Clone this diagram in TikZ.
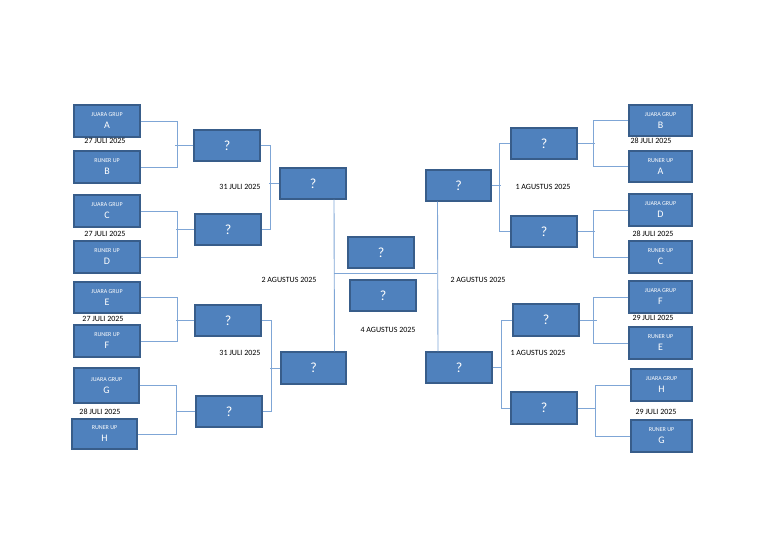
\documentclass[tikz,border=0pt]{standalone}
\usepackage{fontspec}
\setmainfont{Carlito}
\begin{document}
\begin{tikzpicture}[x=1pt,y=-1pt,
  bx/.style={draw=bdr,fill=boxc,line width=1.2pt,text=white,align=center,inner sep=0pt},
  ln/.style={draw=lnc,line width=0.9pt},
  dt/.style={font=\fontsize{8}{9}\selectfont,inner sep=0pt}]
\definecolor{boxc}{HTML}{4F81BD}
\definecolor{bdr}{HTML}{385D8A}
\definecolor{lnc}{HTML}{7FA6D6}
\useasboundingbox (0,0) rectangle (768,543);
\newcommand{\bx}[6]{\node[bx,minimum width=#4-#2,minimum height=#5-#3] (#1) at ({(#2+#4)/2},{(#3+#5)/2}) {#6};}
\newcommand{\gt}[2]{\fontsize{6}{8}\selectfont #1\\#2}
\newcommand{\qm}{\fontsize{14}{14}\selectfont ?}
% left group boxes
\bx{A}{74}{105}{140}{137}{\gt{JUARA GRUP}{A}}
\bx{B}{74}{151}{140}{183}{\gt{RUNER UP}{B}}
\bx{C}{74}{195}{140}{227}{\gt{JUARA GRUP}{C}}
\bx{D}{74}{241}{140}{273}{\gt{RUNER UP}{D}}
\bx{E}{74}{282}{140}{313}{\gt{JUARA GRUP}{E}}
\bx{F}{74}{325}{140}{357}{\gt{RUNER UP}{F}}
\bx{G}{74}{368}{139}{403}{\gt{JUARA GRUP}{G}}
\bx{H}{72}{419}{137}{449}{\gt{RUNER UP}{H}}
% right group boxes
\bx{RB}{629}{105}{692}{136}{\gt{JUARA GRUP}{B}}
\bx{RA}{629}{151}{692}{182}{\gt{RUNER UP}{A}}
\bx{RD}{629}{194}{692}{226}{\gt{JUARA GRUP}{D}}
\bx{RC}{629}{241}{692}{273}{\gt{RUNER UP}{C}}
\bx{RF}{629}{281}{692}{313}{\gt{JUARA GRUP}{F}}
\bx{RE}{629}{327}{692}{359}{\gt{RUNER UP}{E}}
\bx{RH}{631}{369}{692}{401}{\gt{JUARA GRUP}{H}}
\bx{RG}{631}{420}{692}{452}{\gt{RUNER UP}{G}}
% rounds
\bx{la}{194}{130}{260}{161}{\qm}
\bx{lb}{195}{214}{261}{245}{\qm}
\bx{lc}{195}{305}{261}{336}{\qm}
\bx{ld}{196}{396}{262}{427}{\qm}
\bx{lt}{280}{168}{346}{199}{\qm}
\bx{lu}{281}{352}{346}{384}{\qm}
\bx{ca}{348}{237}{414}{268}{\qm}
\bx{cb}{350}{280}{416}{311}{\qm}
\bx{rt}{426}{170}{491}{201}{\qm}
\bx{ru}{426}{352}{492}{383}{\qm}
\bx{ra}{511}{128}{577}{159}{\qm}
\bx{rb}{511}{216}{577}{247}{\qm}
\bx{rc}{513}{304}{579}{336}{\qm}
\bx{rd}{511}{392}{577}{424}{\qm}
% left connectors
\foreach \p/\q/\r in {A/B/la,C/D/lb,E/F/lc,G/H/ld}{
  \draw[ln] (\p.east) -- ++(37,0) |- (\q.east);
  \draw[ln] (\r.west) -- ++(-18,0);}
\foreach \p/\q/\r in {la/lb/lt,lc/ld/lu}{
  \draw[ln] (\p.east) -- ++(10,0) |- (\q.east);
  \draw[ln] (\r.west) -- ++(-10,0);}
\coordinate (lv1) at ([xshift=21pt]lt.south);
\coordinate (lv2) at ([xshift=21pt]lu.north);
\draw[ln] (lv1) -- (lv2);
\coordinate (rv1) at ([xshift=-21pt]rt.south);
\coordinate (rv2) at ([xshift=-21pt]ru.north);
\draw[ln] (rv1) -- (rv2);
\coordinate (hl) at (334,273);
\coordinate (hr) at (437,273);
\draw[ln] (hl) -- (hr);
% right connectors
\foreach \p/\q/\r in {RB/RA/ra,RD/RC/rb,RF/RE/rc,RH/RG/rd}{
  \draw[ln] (\p.west) -- ++(-35,0) |- (\q.west);
  \draw[ln] (\r.east) -- ++(17,0);}
\foreach \p/\q/\r in {ra/rb/rt,rc/rd/ru}{
  \draw[ln] (\p.west) -- ++(-11,0) |- (\q.west);
  \draw[ln] (\r.east) -- ++(9,0);}
% dates
\node[dt] (d1) at (105,141) {27 JULI 2025};
\node[dt] (d2) at (105,234) {27 JULI 2025};
\node[dt] (d3) at (103,319) {27 JULI 2025};
\node[dt] (d4) at (100,412) {28 JULI 2025};
\node[dt] (d5) at (240,187) {31 JULI 2025};
\node[dt] (d6) at (240,353) {31 JULI 2025};
\node[dt] (d7) at (289,280) {2 AGUSTUS 2025};
\node[dt] (d8) at (478,280) {2 AGUSTUS 2025};
\node[dt] (d9) at (388,330) {4 AGUSTUS 2025};
\node[dt] (d10) at (651,141) {28 JULI 2025};
\node[dt] (d11) at (543,187) {1 AGUSTUS 2025};
\node[dt] (d12) at (653,234) {28 JULI 2025};
\node[dt] (d13) at (653,318) {29 JULI 2025};
\node[dt] (d14) at (538,353) {1 AGUSTUS 2025};
\node[dt] (d15) at (656,412) {29 JULI 2025};
\end{tikzpicture}
\end{document}
